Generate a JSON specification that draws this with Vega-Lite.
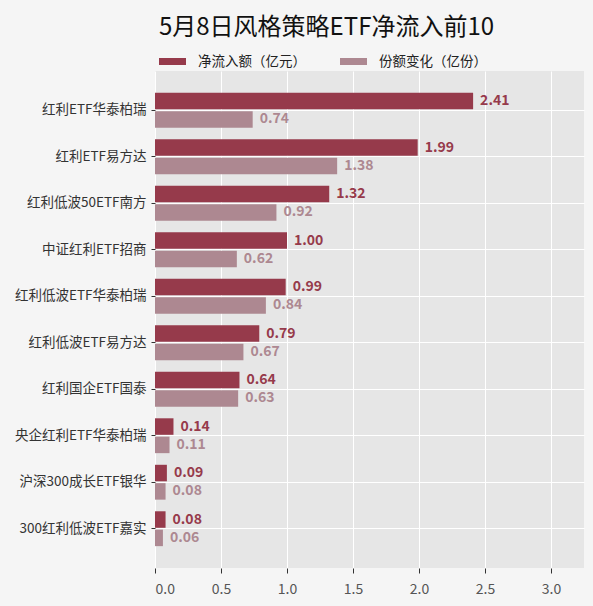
{
  "$schema": "https://vega.github.io/schema/vega-lite/v6.json",
  "autosize": {"type": "none"},
  "padding": {"left": 155, "top": 71, "right": 9, "bottom": 38},
  "width": 429,
  "height": 497,
  "background": "#f5f5f5",
  "title": {
    "text": "5月8日风格策略ETF净流入前10",
    "font": "Noto Sans CJK SC",
    "fontSize": 24,
    "fontWeight": "normal",
    "color": "#111111",
    "anchor": "middle",
    "frame": "group",
    "dx": -43,
    "offset": 8
  },
  "data": {
    "values": [
      {"fund": "红利ETF华泰柏瑞", "series": "净流入额（亿元）", "value": 2.41},
      {"fund": "红利ETF华泰柏瑞", "series": "份额变化（亿份）", "value": 0.74},
      {"fund": "红利ETF易方达", "series": "净流入额（亿元）", "value": 1.99},
      {"fund": "红利ETF易方达", "series": "份额变化（亿份）", "value": 1.38},
      {"fund": "红利低波50ETF南方", "series": "净流入额（亿元）", "value": 1.32},
      {"fund": "红利低波50ETF南方", "series": "份额变化（亿份）", "value": 0.92},
      {"fund": "中证红利ETF招商", "series": "净流入额（亿元）", "value": 1.00},
      {"fund": "中证红利ETF招商", "series": "份额变化（亿份）", "value": 0.62},
      {"fund": "红利低波ETF华泰柏瑞", "series": "净流入额（亿元）", "value": 0.99},
      {"fund": "红利低波ETF华泰柏瑞", "series": "份额变化（亿份）", "value": 0.84},
      {"fund": "红利低波ETF易方达", "series": "净流入额（亿元）", "value": 0.79},
      {"fund": "红利低波ETF易方达", "series": "份额变化（亿份）", "value": 0.67},
      {"fund": "红利国企ETF国泰", "series": "净流入额（亿元）", "value": 0.64},
      {"fund": "红利国企ETF国泰", "series": "份额变化（亿份）", "value": 0.63},
      {"fund": "央企红利ETF华泰柏瑞", "series": "净流入额（亿元）", "value": 0.14},
      {"fund": "央企红利ETF华泰柏瑞", "series": "份额变化（亿份）", "value": 0.11},
      {"fund": "沪深300成长ETF银华", "series": "净流入额（亿元）", "value": 0.09},
      {"fund": "沪深300成长ETF银华", "series": "份额变化（亿份）", "value": 0.08},
      {"fund": "300红利低波ETF嘉实", "series": "净流入额（亿元）", "value": 0.08},
      {"fund": "300红利低波ETF嘉实", "series": "份额变化（亿份）", "value": 0.06}
    ]
  },
  "encoding": {
    "y": {
      "field": "fund", "type": "nominal", "sort": null, "title": null,
      "scale": {"paddingInner": 0.25, "paddingOuter": 0.47},
      "axis": {
        "bandPosition": 0.5,
        "domain": false,
        "grid": true, "gridColor": "#ffffff", "gridWidth": 1,
        "tickSize": 4, "tickColor": "#333333",
        "labelFont": "Noto Sans CJK SC", "labelFontSize": 13.5, "labelColor": "#333333",
        "labelPadding": 5
      }
    },
    "yOffset": {
      "field": "series", "type": "nominal",
      "sort": ["净流入额（亿元）", "份额变化（亿份）"],
      "scale": {"paddingInner": 0.1}
    },
    "x": {
      "field": "value", "type": "quantitative", "title": null,
      "scale": {"domain": [0, 3.25], "nice": false, "zero": true},
      "axis": {
        "values": [0, 0.5, 1, 1.5, 2, 2.5, 3],
        "format": ".1f",
        "domain": false,
        "grid": true, "gridColor": "#ffffff", "gridWidth": 1,
        "tickSize": 5, "tickColor": "#333333",
        "labelFont": "Noto Sans CJK SC", "labelFontSize": 14, "labelColor": "#555555",
        "labelPadding": 9
      }
    },
    "color": {
      "field": "series", "type": "nominal", "title": null,
      "sort": ["净流入额（亿元）", "份额变化（亿份）"],
      "scale": {"domain": ["净流入额（亿元）", "份额变化（亿份）"], "range": ["#963a4b", "#ad8891"]},
      "legend": {
        "orient": "none",
        "direction": "horizontal",
        "legendX": 4,
        "legendY": -23,
        "padding": 0,
        "symbolType": "M-1,-0.26H1V0.26H-1Z",
        "symbolSize": 729,
        "symbolStrokeWidth": 0,
        "labelOffset": 12,
        "columnPadding": 34,
        "labelFont": "Noto Sans CJK SC",
        "labelFontSize": 13.5,
        "labelColor": "#222222"
      }
    }
  },
  "layer": [
    {"mark": {"type": "bar"}},
    {
      "mark": {"type": "text", "align": "left", "baseline": "middle", "dx": 7, "font": "Noto Sans CJK SC", "fontSize": 14, "fontWeight": "bold"},
      "encoding": {"text": {"field": "value", "type": "quantitative", "format": ".2f"}}
    }
  ],
  "config": {
    "view": {"fill": "#e6e6e6", "stroke": null}
  }
}
